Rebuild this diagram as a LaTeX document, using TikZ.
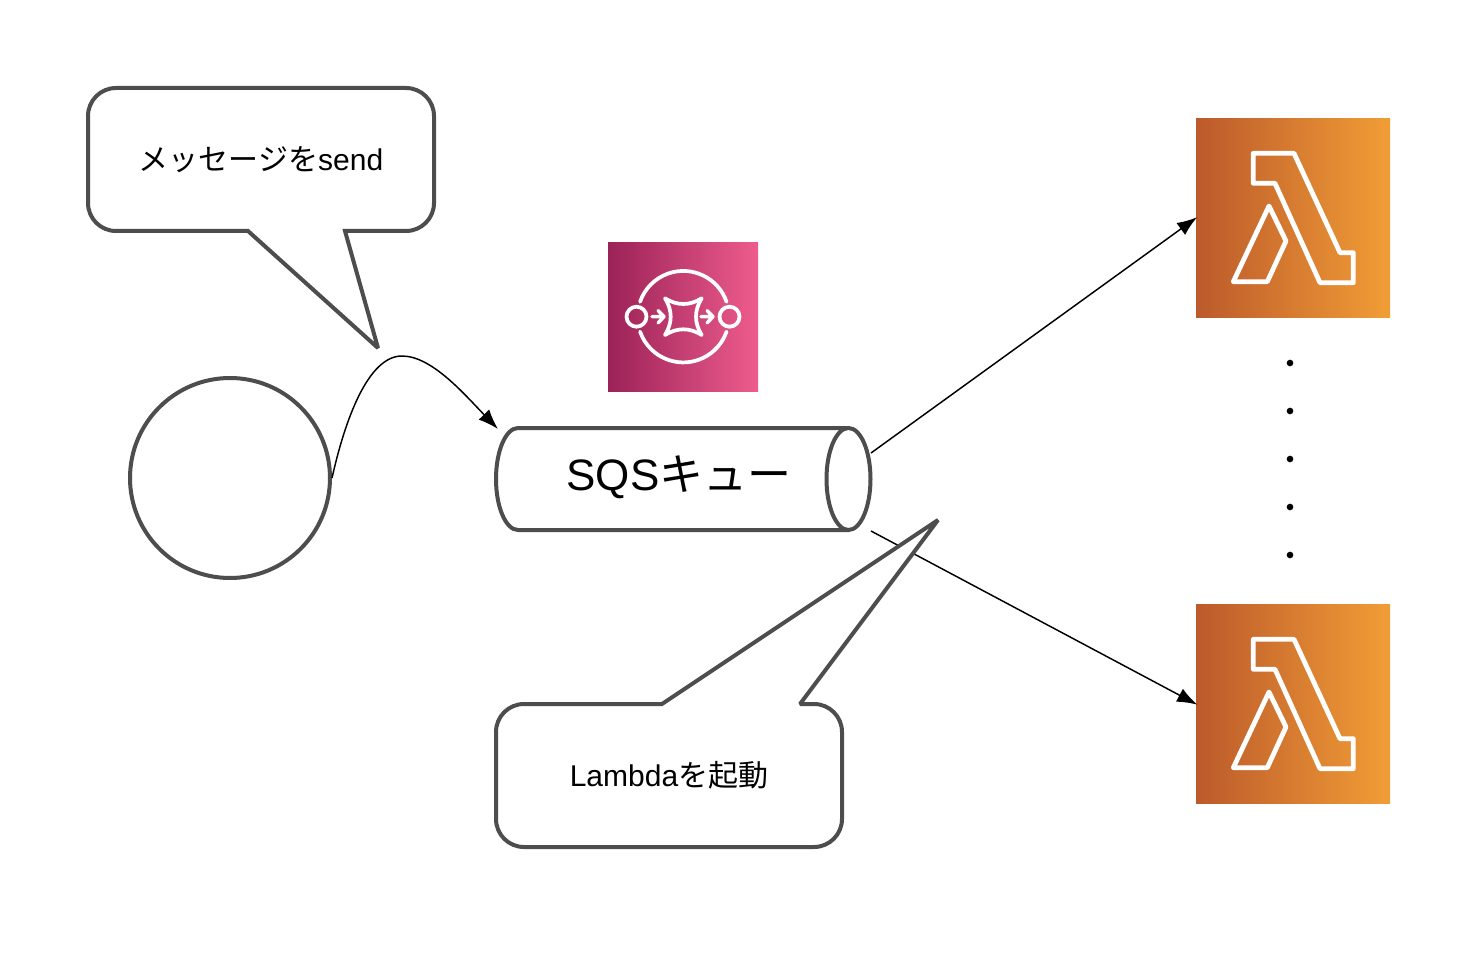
\documentclass[tikz,border=0pt]{standalone}
\usepackage{fontspec}
\setmainfont{Liberation Sans}
\newfontfamily\cjk{Noto Sans CJK JP}
\usetikzlibrary{arrows.meta}
\definecolor{outline}{HTML}{4D4D4D}
\definecolor{sqsleft}{HTML}{9B2258}
\definecolor{sqsright}{HTML}{EE5C8C}
\definecolor{lambdaleft}{HTML}{BC5A2B}
\definecolor{lambdaright}{HTML}{F19D36}
\tikzset{
    shapeline/.style={draw=outline,line width=3pt,fill=white},
    callout/.style={shapeline,line join=miter,miter limit=2},
    link/.style={draw=black,line width=1.1pt,shorten >=-1pt,-{Latex[length=15pt,width=11pt]}},
    iconline/.style={draw=white,line width=3.6pt,line join=round,line cap=round},
    label/.style={font=\fontsize{22.5pt}{26pt}\selectfont,inner sep=0pt}
}
\begin{document}
\begin{tikzpicture}[x=0.75pt,y=-0.75pt]
    \useasboundingbox (0,0) rectangle (1482,970);
    \node[shapeline,circle,minimum size=150pt,inner sep=0pt] (client) at (230,478) {};
    \node[rectangle,left color=sqsleft,right color=sqsright,minimum width=112.5pt,minimum height=111.7pt,inner sep=0pt,outer sep=0pt] (sqsicon) at (683,317) {};
    % queue
    \draw[shapeline] (848.5,428) -- (518,428) arc[start angle=90,end angle=270,x radius=16.5pt,y radius=38.25pt] -- (848.5,530);
    \draw[shapeline] (848.5,479) ellipse[x radius=16.5pt,y radius=38.25pt];
    \node[font=\fontsize{33pt}{36pt}\selectfont,inner sep=0pt] (queue) at (679,477) {SQS{\cjk キュー}};
    % lambda icons
    \foreach \name/\ypos in {lambdatop/218,lambdabottom/704} {
        \node[rectangle,left color=lambdaleft,right color=lambdaright,minimum width=145.5pt,minimum height=149.2pt,inner sep=0pt,outer sep=0pt] (\name) at (1293,\ypos) {};
        \draw[iconline] (\name.center) ++(-39.7,-64.7) -- ++(40.7,0) -- ++(46,99.4) -- ++(13.3,0) -- ++(0,30) -- ++(-33.3,0) -- ++(-45,-99.4) -- ++(-21.7,0) -- cycle;
        \draw[iconline] (\name.center) ++(-24,-12) -- ++(17,35) -- ++(-18.7,40.7) -- ++(-34,0) -- cycle;
    }
    % dots between the icons
    \foreach \ypos in {363,411,459,507,555} {
        \node[circle,fill=black,minimum size=5pt,inner sep=0pt] (dot\ypos) at (1290,\ypos) {};
    }
    % sqs icon
    \coordinate (sqsc) at (683.3,316.7);
    \node[circle,iconline,line width=2.8pt,minimum size=15pt,inner sep=0pt] (sqsin) at (636.5,316.7) {};
    \node[circle,iconline,line width=2.8pt,minimum size=15pt,inner sep=0pt] (sqsout) at (729.5,316.7) {};
    \draw[iconline,line width=2.8pt] ([shift={(19:34.3pt)}]sqsc) arc[start angle=19,end angle=161,radius=34.3pt];
    \draw[iconline,line width=2.8pt] ([shift={(-19:34.3pt)}]sqsc) arc[start angle=-19,end angle=-161,radius=34.3pt];
    \draw[iconline,line width=2.8pt] (665,298.3) to[bend right=32] (701.7,298.3) to[bend right=32] (701.7,335) to[bend right=32] (665,335) to[bend right=32] cycle;
    \draw[iconline,line width=2.6pt] (652,316.7) -- (664,316.7) (658,310.5) -- (664,316.7) -- (658,323);
    \draw[iconline,line width=2.6pt] (701,316.7) -- (713,316.7) (707,310.5) -- (713,316.7) -- (707,323);
    % connectors
    \draw[link] (client.east) .. controls (345,420) and (368,356) .. (402,356) .. controls (432,356) and (465,395) .. (497,428);
    \coordinate (fanouttop) at (871,453);
    \coordinate (fanoutbottom) at (871,531);
    \draw[link] (fanouttop) -- (lambdatop.west);
    \draw[link] (fanoutbottom) -- (lambdabottom.west);
    % callouts
    \draw[callout] (248,231) -- (378,348) -- (345,231) -- (406,231) arc[start angle=-90,end angle=0,radius=21pt] -- (434,116) arc[start angle=0,end angle=90,radius=21pt] -- (116,88) arc[start angle=90,end angle=180,radius=21pt] -- (88,203) arc[start angle=180,end angle=270,radius=21pt] -- cycle;
    \node[label] (sendtext) at (261,160) {{\cjk メッセージを}send};
    \draw[callout] (662,704) -- (938,520) -- (800,704) -- (814,704) arc[start angle=90,end angle=0,radius=21pt] -- (842,819) arc[start angle=0,end angle=-90,radius=21pt] -- (524,847) arc[start angle=-90,end angle=-180,radius=21pt] -- (496,732) arc[start angle=180,end angle=90,radius=21pt] -- cycle;
    \node[label] (invoketext) at (669,775) {Lambda{\cjk を起動}};
\end{tikzpicture}
\end{document}
